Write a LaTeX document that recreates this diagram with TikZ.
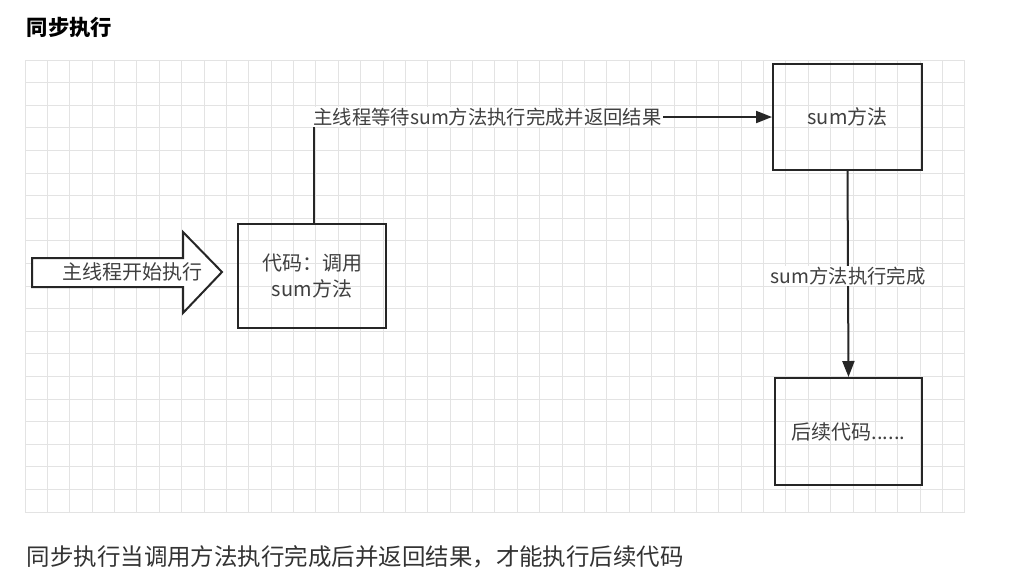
\documentclass[tikz,border=0pt]{standalone}
\usepackage{fontspec}
\setmainfont{Noto Sans CJK SC}
\usetikzlibrary{arrows.meta}
\begin{document}
\begin{tikzpicture}[x=0.75pt,y=-0.75pt,
  box/.style={draw=black!85,line width=1.5pt,inner sep=0,align=center,text=black!75,font=\fontsize{15}{19}\selectfont},
  conn/.style={draw=black!85,line width=1.5pt,-{Triangle[length=12pt,width=9pt]}},
  lbl/.style={fill=white,inner sep=1pt,text=black!75,font=\fontsize{14.5}{18}\selectfont}]
\useasboundingbox (0,0) rectangle (1028,583);
\fill[white] (0,0) rectangle (1028,583);
\foreach \i in {0,...,42} \draw[black!11,line width=0.75pt] (25+\i*22.38,60) -- (25+\i*22.38,512);
\foreach \j in {0,...,20} \draw[black!11,line width=0.75pt] (25,60+\j*22.6) -- (965,60+\j*22.6);
\node[anchor=west,font=\bfseries\fontsize{16}{20}\selectfont] (title) at (22,27) {同步执行};
\draw[black!85,line width=1.5pt,fill=white] (32,258) -- (183,258) -- (183,232) -- (222,272) -- (183,313) -- (183,287) -- (32,287) -- cycle;
\node[anchor=west,text=black!75,font=\fontsize{15}{19}\selectfont] (start) at (58,272) {主线程开始执行};
\node[box,minimum width=111pt,minimum height=78pt] (b1) at (312,276) {代码：调用\\sum方法};
\node[box,minimum width=111.75pt,minimum height=79.5pt] (b2) at (847.5,117) {sum方法};
\node[box,minimum width=110.25pt,minimum height=80.25pt] (b3) at (848.5,431.5) {后续代码......};
\coordinate (c1) at (314,117);
\draw[conn] (b1.north -| c1) -- (c1) -- (b2.west);
\node[lbl,anchor=west] (l1) at (312,117) {主线程等待sum方法执行完成并返回结果};
\draw[conn] (b2.south) -- (b3.north);
\node[lbl] (l2) at (848,276) {sum方法执行完成};
\node[anchor=west,text=black!80,font=\fontsize{17.6}{21}\selectfont] (foot) at (22,557) {同步执行当调用方法执行完成后并返回结果，才能执行后续代码};
\end{tikzpicture}
\end{document}
